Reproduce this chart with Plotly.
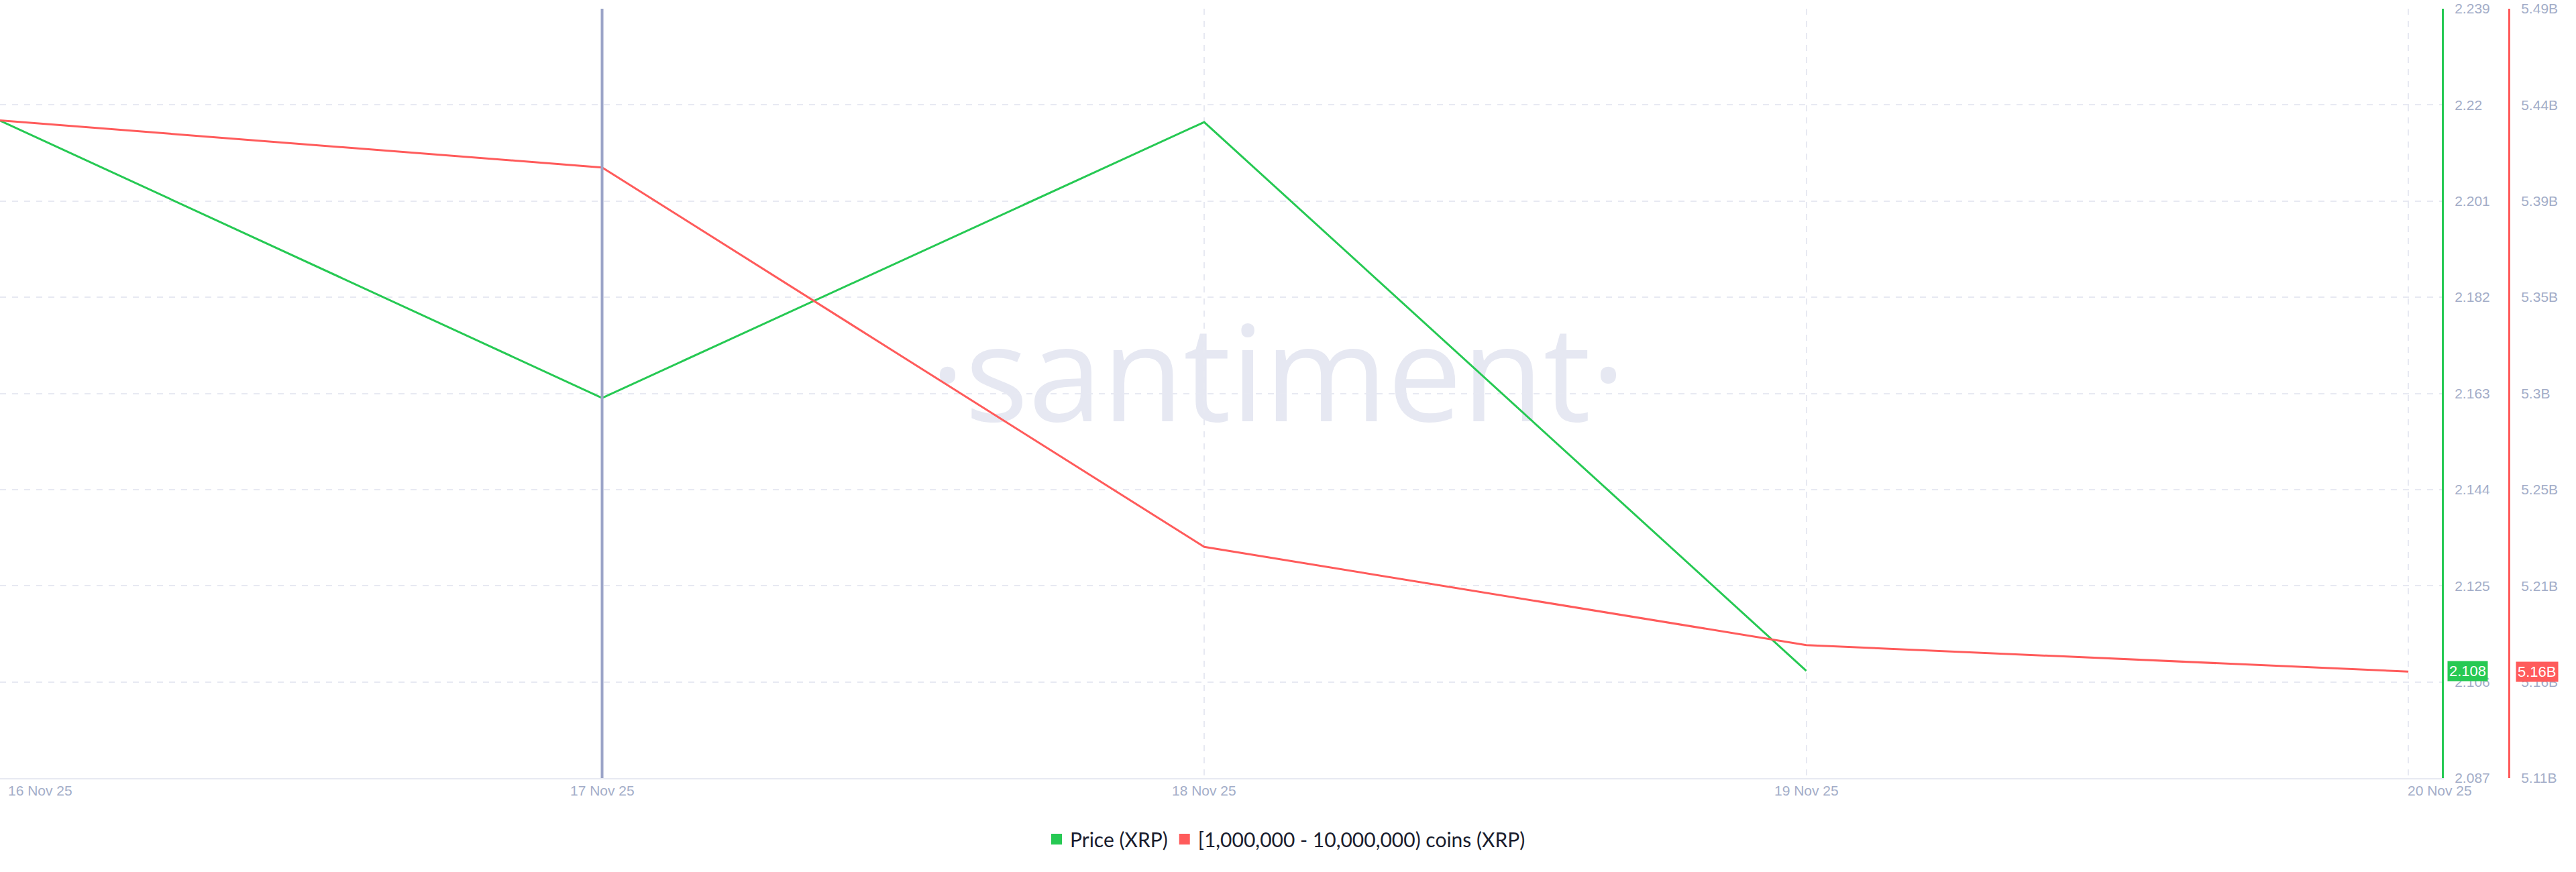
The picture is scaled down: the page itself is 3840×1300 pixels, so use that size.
import plotly.graph_objects as go

# ---------------- data ----------------
dates = ['2025-11-16', '2025-11-17', '2025-11-18', '2025-11-19', '2025-11-20']
date_labels = ['16 Nov 25', '17 Nov 25', '18 Nov 25', '19 Nov 25', '20 Nov 25']

price_xrp = [2.2169, 2.1621, 2.2166, 2.1082]                  # 16..19 Nov
holders_1m_10m = [5.4348, 5.4116, 5.2242, 5.1757, 5.1626]     # billions, 16..20 Nov

price_ticks = [2.087, 2.106, 2.125, 2.144, 2.163, 2.182, 2.201, 2.22, 2.239]
price_ticktext = ['2.087', '2.106', '2.125', '2.144', '2.163', '2.182', '2.201', '2.22', '2.239']
holder_ticks = [5.11, 5.1575, 5.205, 5.2525, 5.30, 5.3475, 5.395, 5.4425, 5.49]
holder_ticktext = ['5.11B', '5.16B', '5.21B', '5.25B', '5.3B', '5.35B', '5.39B', '5.44B', '5.49B']

GREEN = '#26c953'
RED = '#ff5b5b'
GRID = '#e7e9f2'
TICK = '#a3adc8'

W, H = 3840, 1300
ML, MR, MT, MB = 0, 100, 13, 140
plot_w = W - ML - MR
plot_h = H - MT - MB
x_end = 3640 / plot_w  # x domain end (price axis line)

fig = go.Figure()

# lines
fig.add_trace(go.Scatter(x=dates[:len(price_xrp)], y=price_xrp, mode='lines',
                         line=dict(color=GREEN, width=3), yaxis='y', showlegend=False,
                         hoverinfo='skip'))
fig.add_trace(go.Scatter(x=dates, y=holders_1m_10m, mode='lines',
                         line=dict(color=RED, width=3), yaxis='y2', showlegend=False,
                         hoverinfo='skip'))

# legend entries (square markers)
fig.add_trace(go.Scatter(x=[None], y=[None], mode='markers', name='Price (XRP)',
                         marker=dict(symbol='square', size=18, color=GREEN)))
fig.add_trace(go.Scatter(x=[None], y=[None], mode='markers', name='[1,000,000 - 10,000,000) coins (XRP)',
                         marker=dict(symbol='square', size=18, color=RED)))

fig.update_layout(
    width=W, height=H,
    margin=dict(l=ML, r=MR, t=MT, b=MB, pad=0),
    paper_bgcolor='white', plot_bgcolor='white',
    hovermode=False,
    font=dict(family='Liberation Sans, Arial, sans-serif', size=21, color=TICK),
    xaxis=dict(type='date', domain=[0, x_end],
               range=['2025-11-16', '2025-11-20 01:20'],
               dtick=86400000, tick0='2025-11-16',
               showgrid=True, gridcolor=GRID, gridwidth=2, griddash='dash',
               showticklabels=False, ticks='', zeroline=False,
               showline=True, linecolor=GRID, linewidth=2, automargin=False),
    yaxis=dict(range=[price_ticks[0], price_ticks[-1]], side='right', anchor='x',
               tickvals=price_ticks, ticktext=price_ticktext,
               showgrid=True, gridcolor=GRID, gridwidth=2, griddash='dash',
               showline=True, linecolor=GREEN, linewidth=3, zeroline=False,
               ticks='', ticklabelstandoff=12, automargin=False,
               tickfont=dict(size=21, color=TICK)),
    yaxis2=dict(range=[holder_ticks[0], holder_ticks[-1]], side='right', overlaying='y',
                anchor='free', position=1.0,
                tickvals=holder_ticks, ticktext=holder_ticktext,
                showgrid=False, showline=True, linecolor=RED, linewidth=3, zeroline=False,
                ticks='', ticklabelstandoff=12, automargin=False,
                tickfont=dict(size=21, color=TICK)),
    legend=dict(orientation='h', x=1917 / plot_w, xanchor='center', y=-91 / plot_h, yanchor='middle',
                font=dict(family='Lato, Open Sans, sans-serif', size=30, color='#1a1d2e'),
                itemsizing='trace', bgcolor='rgba(0,0,0,0)'),
    showlegend=True,
)

# x tick labels (first / last hugging the edges like the original)
for i, (d, lab) in enumerate(zip(dates, date_labels)):
    if i == 0:
        anchor, shift = 'left', 10
    elif i == len(dates) - 1:
        anchor, shift = 'left', -3
    else:
        anchor, shift = 'center', 0
    fig.add_annotation(x=d, xref='x', y=-19 / plot_h, yref='paper', text=lab,
                       showarrow=False, xanchor=anchor, yanchor='middle', xshift=shift,
                       font=dict(size=21, color=TICK))

# last value badges
fig.add_annotation(x=3648 / plot_w, xref='paper', y=price_xrp[-1], yref='y',
                   text=f'{price_xrp[-1]:.3f}', showarrow=False, xanchor='left', yanchor='middle',
                   bgcolor=GREEN, borderpad=2, font=dict(size=22, color='white'))
fig.add_annotation(x=3750 / plot_w, xref='paper', y=holders_1m_10m[-1], yref='y2',
                   text=f'{holders_1m_10m[-1]:.2f}B', showarrow=False, xanchor='left', yanchor='middle',
                   bgcolor=RED, borderpad=2, font=dict(size=22, color='white'))

# hover crosshair on 17 Nov
fig.add_shape(type='line', xref='x', yref='paper', x0=dates[1], x1=dates[1], y0=0, y1=1,
              line=dict(color='#9ba4c8', width=4), layer='above')

# watermark
fig.add_shape(type='rect', xref='paper', yref='paper',
              x0=1405 / plot_w, x1=2405 / plot_w, y0=0.399, y1=0.639,
              line=dict(width=0), fillcolor='rgba(0,0,0,0)', layer='below',
              label=dict(text='·santiment·', textposition='middle center',
                         font=dict(family='Open Sans', size=198, color='#e6e8f2')))

fig.write_html("out.html", config={'displayModeBar': False},
               post_script="document.body.style.margin='0';document.body.style.overflow='hidden';")
